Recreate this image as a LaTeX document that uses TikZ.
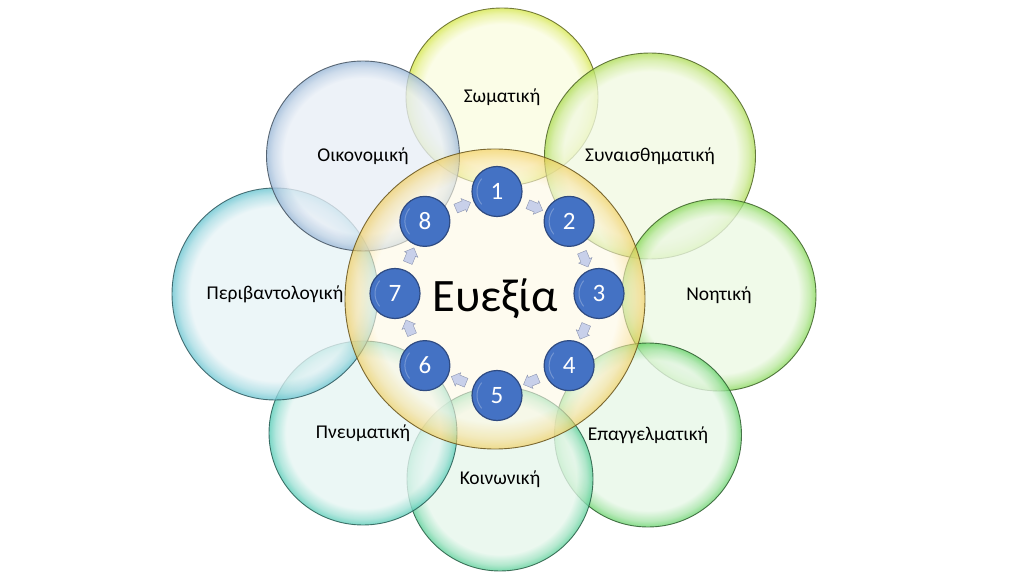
\documentclass[tikz,border=0pt]{standalone}
\usepackage{fontspec}
\setmainfont{Carlito}
\usepackage{xcolor}
\usepackage{tikz}
\usetikzlibrary{calc, shapes.geometric, shapes.arrows}

\definecolor{bubin}{HTML}{FFFFFF}
\definecolor{bubrim}{HTML}{000000}
\pgfdeclareradialshading[bubin,bubrim]{bubble}{\pgfpoint{0bp}{0bp}}{color(0bp)=(bubin); color(20.5bp)=(bubin); color(23.3bp)=(bubrim!50!bubin); color(25bp)=(bubrim); color(50bp)=(bubrim)}

\definecolor{evin}{HTML}{FEF8E4}	\definecolor{evrim}{HTML}{F2C84B}
\definecolor{somin}{HTML}{FAFCE0}	\definecolor{somrim}{HTML}{D5E64B}
\definecolor{synin}{HTML}{F1F9E1}	\definecolor{synrim}{HTML}{AEDC55}
\definecolor{noiin}{HTML}{ECF8E3}	\definecolor{noirim}{HTML}{86D858}
\definecolor{epain}{HTML}{E7F7E7}	\definecolor{eparim}{HTML}{66D26A}
\definecolor{koiin}{HTML}{E5F6EB}	\definecolor{koirim}{HTML}{56CE96}
\definecolor{pnein}{HTML}{E5F5F2}	\definecolor{pnerim}{HTML}{55CBB6}
\definecolor{perin}{HTML}{E7F3F6}	\definecolor{perrim}{HTML}{68C4D0}
\definecolor{oikin}{HTML}{E8EEF6}	\definecolor{oikrim}{HTML}{98B6D6}
\definecolor{numblue}{HTML}{4472C4}
\definecolor{numrim}{HTML}{2F4B82}
\definecolor{arrfill}{HTML}{C8D0EA}
\definecolor{arrline}{HTML}{8A93AE}

\begin{document}
\begin{tikzpicture}[x=1pt, y=1pt, font=\fontsize{19.5}{22}\selectfont]
\tikzset{bub/.style 2 args={ellipse, inner sep=0pt, shading=bubble, fill opacity=0.78, text opacity=1, draw=#2!45!black, draw opacity=0.85, line width=0.9pt, /utils/exec={\colorlet{bubin}{#1}\colorlet{bubrim}{#2}}}}
\tikzstyle{numb} = [circle, minimum size=50pt, inner sep=0pt, fill=numblue, draw=numrim, line width=1.2pt, text=white, font=\fontsize{25}{27}\selectfont,
	path picture={\draw[white, opacity=.25, line width=1pt] ([shift={(140:20pt)}]path picture bounding box.center) arc[start angle=140, end angle=220, radius=20pt];}]
\tikzstyle{marr} = [single arrow, draw=arrline, fill=arrfill, inner sep=4.5pt, minimum height=16pt, single arrow head extend=2.5pt, sloped]

\useasboundingbox (0,0) rectangle (1024,576);

\node[bub={somin}{somrim}, minimum width=192pt, minimum height=178pt]	at (502, 479)	(s1)	{Σωματική};
\node[bub={synin}{synrim}, minimum width=211pt, minimum height=206pt]	at (650, 420)	(s2)	{Συναισθηματική};
\node[bub={noiin}{noirim}, minimum width=194pt, minimum height=192pt]	at (719, 281)	(s3)	{Νοητική};
\node[bub={epain}{eparim}, minimum width=187pt, minimum height=184pt]	at (648, 141)	(s4)	{Επαγγελματική};
\node[bub={koiin}{koirim}, minimum width=186pt, minimum height=184pt]	at (500, 97)	(s5)	{Κοινωνική};
\node[bub={pnein}{pnerim}, minimum width=188pt, minimum height=184pt]	at (363, 143)	(s6)	{Πνευματική};
\node[bub={perin}{perrim}, minimum width=206pt, minimum height=212pt]	at (275, 282)	(s7)	{Περιβαντολογική};
\node[bub={oikin}{oikrim}, minimum width=193pt, minimum height=190pt]	at (363, 420)	(s8)	{Οικονομική};
\node[bub={evin}{evrim}, minimum size=300pt, fill opacity=0.6, draw opacity=0.9, font=\fontsize{46.5}{52}\selectfont]	at (495, 277)	(c0)	{Ευεξία};

\foreach \i in {1,...,8}
	\node[numb]	at ($(497,282.5)+(135-45*\i:102)$)	(n\i)	{\i};

\foreach \i/\j in {1/2, 2/3, 3/4, 4/5, 5/6, 6/7, 7/8, 8/1}
	\path[allow upside down] (n\i) -- node[marr] {} (n\j);
\end{tikzpicture}
\end{document}
